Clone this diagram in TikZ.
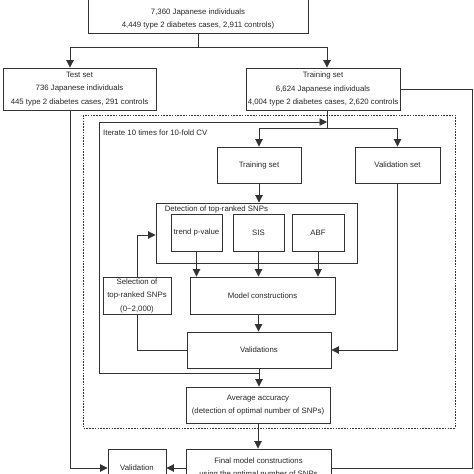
\documentclass[tikz,border=0pt]{standalone}
\usepackage{fontspec}
\setmainfont{Liberation Sans}
\usepackage{tikz}
\usetikzlibrary{arrows.meta, calc, positioning}

\tikzset{
    flowbox/.style={draw=black!80, line width=0.9pt, align=center, inner sep=0pt,
                    font=\fontsize{7.8}{13.5}\selectfont, text=black!85},
    flowline/.style={draw=black!80, line width=0.9pt},
    cvframe/.style={draw=black!80, line width=0.75pt, dash pattern=on 1.6pt off 1.2pt}
}

\begin{document}
\begin{tikzpicture}[x=1pt, y=-1pt, >={Triangle[width=7.5pt,length=7.5pt]}]
    \useasboundingbox (0,0) rectangle (474,474);

    % whole cohort and the two splits
    \node[flowbox, minimum width=220pt, minimum height=45pt] (all) at (198,10.5)
        {\strut\\7,360 Japanese individuals\\4,449 type 2 diabetes cases, 2,911 controls)};
    \node[flowbox, minimum width=153pt, minimum height=42pt] (test) at (79.5,89)
        {Test set\\736 Japanese individuals\\445 type 2 diabetes cases, 291 controls};
    \node[flowbox, minimum width=154pt, minimum height=42pt] (train) at (323,89)
        {Training set\\6,624 Japanese individuals\\4,004 type 2 diabetes cases, 2,620 controls};

    % cross validation frame
    \draw[cvframe] (83,115) rectangle (455,428);
    \node[anchor=west, font=\fontsize{7.8}{13.5}\selectfont, text=black!85, inner sep=0pt] (iterlbl) at (103,133)
        {Iterate 10 times for 10-fold CV};

    \node[flowbox, minimum width=84pt, minimum height=36pt] (itrain) at (259,165) {Training set};
    \node[flowbox, minimum width=85pt, minimum height=36pt] (valset) at (397.5,165) {Validation set};

    \node[flowbox, minimum width=201pt, minimum height=60pt] (detect) at (256.5,233) {};
    \node[anchor=west, font=\fontsize{7.8}{13.5}\selectfont, text=black!85, inner sep=0pt] (detlbl)
        at ([xshift=9pt,yshift=-6.5pt]detect.north west) {Detection of top-ranked SNPs};
    \node[flowbox, minimum width=51pt, minimum height=37pt] (trend) at (196.5,232.5) {trend p-value};
    \node[flowbox, minimum width=51pt, minimum height=37pt] (sis) at (258.5,232.5) {SIS};
    \node[flowbox, minimum width=52pt, minimum height=37pt] (abf) at (318,232.5) {ABF};

    \node[flowbox, minimum width=145pt, minimum height=37pt] (model) at (262.5,295.5) {Model constructions};
    \node[flowbox, minimum width=68pt, minimum height=37pt] (sel) at (137,295.5)
        {Selection of\\top-ranked SNPs\\(0\textasciitilde 2,000)};
    \node[flowbox, minimum width=144pt, minimum height=36pt] (vals) at (259,350) {Validations};
    \node[flowbox, minimum width=144pt, minimum height=36pt] (avg) at (258,405)
        {Average accuracy\\(detection of optimal number of SNPs)};

    % final step
    \node[flowbox, minimum width=145pt, minimum height=38pt] (final) at (258.5,468)
        {Final model constructions\\using the optimal number of SNPs};
    \node[flowbox, minimum width=58pt, minimum height=38pt] (finval) at (137,468) {Validation};

    \coordinate (allfork) at (198,47);
    \coordinate (trtop) at ([xshift=4pt]train.north);
    \coordinate (trsplit) at ([xshift=4pt]train.south);
    \coordinate (trfork) at (327,128);
    \coordinate (tetop) at ([xshift=-9.5pt]test.north);
    \coordinate (tebot) at ([xshift=-9.5pt]test.south);
    \coordinate (rightc) at (472,89);
    \coordinate (loopbl) at (99,373);
    \coordinate (looptl) at (99,122);

    \draw[flowline,->] (all.south) -- (allfork) -| (tetop);
    \draw[flowline,->] (allfork) -| (trtop);
    \draw[flowline,->] (trsplit) -- (trfork) -| (itrain.north);
    \draw[flowline,->] (trfork) -| (valset.north);
    \draw[flowline,->] (itrain.south) -- (itrain.south |- detect.north);
    \draw[flowline,->] (trend.south) -- (trend.south |- model.north);
    \draw[flowline,->] (sis.south) -- (sis.south |- model.north);
    \draw[flowline,->] (abf.south) -- (abf.south |- model.north);
    \draw[flowline,->] (sel.north) |- ([yshift=-2pt]detect.west);
    \draw[flowline] (sel.south) |- (vals.west);
    \draw[flowline,->] (sis.south |- model.south) -- (sis.south |- vals.north);
    \draw[flowline,->] (valset.south) |- (vals.east);
    \draw[flowline,->] (vals.south) |- (loopbl) -- (looptl) -- (looptl -| trsplit);
    \draw[flowline,->] (vals.south) -- (vals.south |- avg.north);
    \draw[flowline,->] (avg.south) -- (avg.south |- final.north);
    \draw[flowline,->] (final.west) -- (finval.east);
    \draw[flowline,->] (tebot) |- (finval.west);
    \draw[flowline] (train.east) -- (rightc) |- (final.east);
\end{tikzpicture}
\end{document}
